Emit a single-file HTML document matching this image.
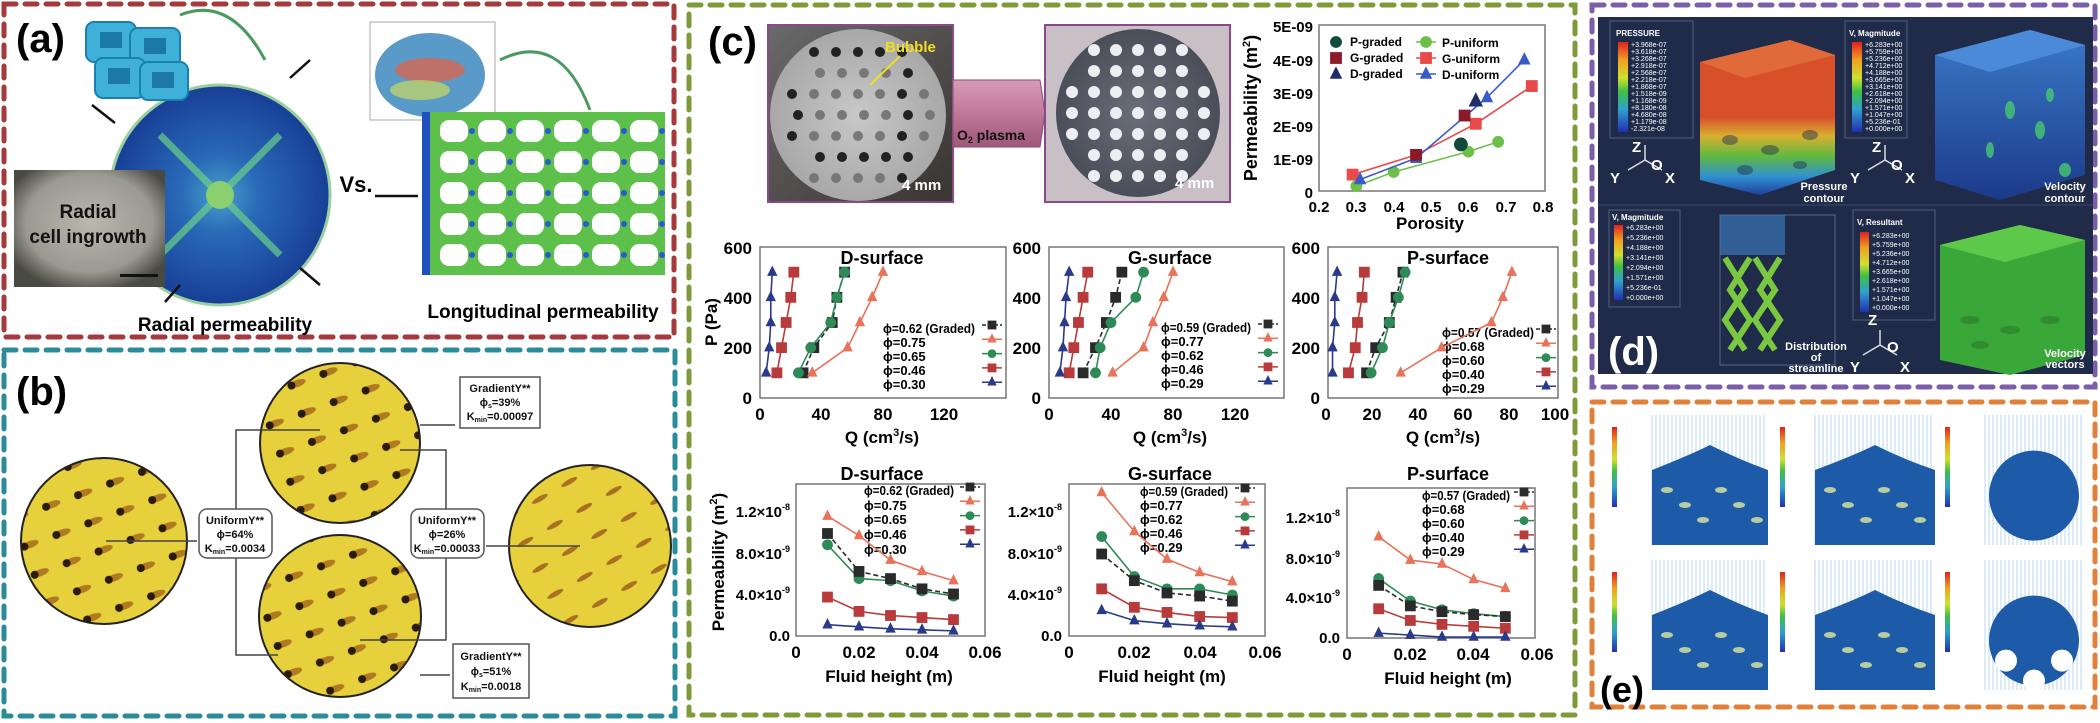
<!DOCTYPE html>
<html><head><meta charset="utf-8">
<style>
html,body{margin:0;padding:0;background:#fff;}
svg{display:block;font-family:"Liberation Sans",Arial,sans-serif;font-weight:bold;}
</style></head>
<body>
<svg id="s" width="2100" height="723" viewBox="0 0 2100 723" xmlns="http://www.w3.org/2000/svg">
<defs>
  <radialGradient id="circBlue" cx="50%" cy="50%" r="50%">
    <stop offset="0" stop-color="#4aa0c8"/><stop offset="0.35" stop-color="#2a6ab8"/><stop offset="1" stop-color="#173f96"/>
  </radialGradient>
  <radialGradient id="inset" cx="50%" cy="45%" r="60%">
    <stop offset="0" stop-color="#b8b8ae"/><stop offset="0.7" stop-color="#9a9a90"/><stop offset="1" stop-color="#4a4a44"/>
  </radialGradient>
  <pattern id="dots" x="0" y="0" width="34" height="30" patternUnits="userSpaceOnUse" patternTransform="rotate(-20)">
    <rect width="34" height="30" fill="#e6d13c"/>
    <ellipse cx="12" cy="12" rx="9" ry="3.5" fill="#b07a20"/>
    <circle cx="6" cy="12" r="4" fill="#2a1a08"/>
  </pattern>
  <pattern id="dots2" x="0" y="0" width="34" height="30" patternUnits="userSpaceOnUse" patternTransform="rotate(-30)">
    <rect width="34" height="30" fill="#e6d13c"/>
    <ellipse cx="14" cy="12" rx="9" ry="2.5" fill="#a87020"/>
  </pattern>
  <linearGradient id="rainbow" x1="0" y1="0" x2="0" y2="1">
    <stop offset="0" stop-color="#e02020"/><stop offset="0.2" stop-color="#f0a020"/><stop offset="0.4" stop-color="#d0e030"/>
    <stop offset="0.55" stop-color="#40c040"/><stop offset="0.75" stop-color="#30a0d0"/><stop offset="1" stop-color="#2030b0"/>
  </linearGradient>
  <linearGradient id="presCube" x1="0" y1="0" x2="0" y2="1">
    <stop offset="0" stop-color="#d8502a"/><stop offset="0.5" stop-color="#d8502a"/><stop offset="0.62" stop-color="#d8b030"/>
    <stop offset="0.75" stop-color="#60b840"/><stop offset="0.88" stop-color="#3090d0"/><stop offset="1" stop-color="#2040a0"/>
  </linearGradient>
  <linearGradient id="velCube" x1="0" y1="0" x2="0" y2="1">
    <stop offset="0" stop-color="#3a7ac8"/><stop offset="1" stop-color="#1c3a8a"/>
  </linearGradient>
  <linearGradient id="photo1" x1="0" y1="0" x2="1" y2="1">
    <stop offset="0" stop-color="#6a6a6a"/><stop offset="1" stop-color="#3a3432"/>
  </linearGradient>
  <radialGradient id="disc1"><stop offset="0" stop-color="#c8c8c8"/><stop offset="1" stop-color="#a8a8a8"/></radialGradient>
  <radialGradient id="disc2"><stop offset="0" stop-color="#6a6e78"/><stop offset="1" stop-color="#4a4e58"/></radialGradient>
  <linearGradient id="tube" x1="0" y1="0" x2="0" y2="1">
    <stop offset="0" stop-color="#d89ab8"/><stop offset="0.5" stop-color="#c07898"/><stop offset="1" stop-color="#a05878"/>
  </linearGradient>
</defs>

<!-- ===== Panel borders ===== -->
<g fill="none" stroke-width="5" stroke-linecap="round" stroke-dasharray="12 9">
  <rect x="4" y="4" width="670" height="333" stroke="#a6393c"/>
  <rect x="4" y="350" width="671" height="366" stroke="#2b8c99"/>
  <rect x="689" y="5" width="886" height="710" stroke="#7f9a3a"/>
  <rect x="1592" y="5" width="503" height="382" stroke="#7a5ea8"/>
  <rect x="1592" y="402" width="503" height="305" stroke="#e0803a"/>
</g>

<!-- ===== (a) ===== -->
<text x="16" y="52" font-size="40">(a)</text>
<circle cx="220" cy="195" r="110" fill="url(#circBlue)" stroke="#9ad0a0" stroke-width="3"/>
<g stroke="#6ad08a" stroke-width="7" opacity="0.7">
  <line x1="160" y1="135" x2="280" y2="255"/><line x1="280" y1="135" x2="160" y2="255"/>
</g>
<circle cx="220" cy="195" r="14" fill="#8ad070"/>
<g fill="#3fb0d8" stroke="#1a80b0" stroke-width="2">
  <rect x="86" y="22" width="50" height="40" rx="8"/><rect x="130" y="28" width="50" height="40" rx="8"/>
  <rect x="95" y="58" width="50" height="40" rx="8"/><rect x="140" y="62" width="48" height="38" rx="8"/>
</g>
<g fill="#1c78a8"><rect x="100" y="32" width="22" height="16"/><rect x="144" y="38" width="22" height="16"/><rect x="108" y="68" width="22" height="16"/><rect x="152" y="72" width="22" height="16"/></g>
<path d="M180 15 Q230 -5 265 60" fill="none" stroke="#4a9a60" stroke-width="3"/>
<rect x="14" y="170" width="151" height="117" fill="url(#inset)"/>
<text x="88" y="218" font-size="19" text-anchor="middle" fill="#111">Radial</text>
<text x="88" y="243" font-size="19" text-anchor="middle" fill="#111">cell ingrowth</text>
<rect x="120" y="274" width="38" height="3" fill="#111"/>
<g stroke="#111" stroke-width="2.5">
  <line x1="92" y1="105" x2="115" y2="123"/><line x1="310" y1="60" x2="290" y2="78"/>
  <line x1="320" y1="285" x2="300" y2="268"/><line x1="165" y1="302" x2="180" y2="285"/>
</g>
<text x="225" y="331" font-size="19" text-anchor="middle">Radial permeability</text>
<text x="356" y="192" font-size="22" text-anchor="middle">Vs.</text>
<rect x="370" y="22" width="125" height="98" fill="none" stroke="#aaa" stroke-width="1"/>
<ellipse cx="430" cy="75" rx="55" ry="42" fill="#5a9ac8"/>
<ellipse cx="430" cy="70" rx="35" ry="12" fill="#e86040" opacity="0.7"/>
<ellipse cx="420" cy="90" rx="30" ry="10" fill="#c8d860" opacity="0.7"/>
<path d="M500 60 Q560 30 590 110" fill="none" stroke="#4a9a60" stroke-width="3"/>
<rect x="422" y="112" width="243" height="163" fill="#5cc04a"/>
<rect x="422" y="112" width="8" height="163" fill="#2050c0"/>
<g fill="#fff" id="holes"></g>
<line x1="375" y1="196" x2="418" y2="196" stroke="#111" stroke-width="2.5"/>
<text x="543" y="318" font-size="19" text-anchor="middle">Longitudinal permeability</text>

<!-- ===== (b) ===== -->
<text x="16" y="405" font-size="40">(b)</text>
<g stroke="#222" stroke-width="2">
  <circle cx="104" cy="541" r="83" fill="url(#dots)"/>
  <circle cx="340" cy="443" r="80" fill="url(#dots)"/>
  <circle cx="340" cy="616" r="81" fill="url(#dots)"/>
  <circle cx="590" cy="546" r="81" fill="url(#dots2)"/>
</g>
<g fill="none" stroke="#444" stroke-width="1.5">
  <path d="M106 541 H197"/><path d="M236 509 V430 H320"/><path d="M236 558 V655 H278"/>
  <path d="M580 546 H486"/><path d="M446 509 V450 H400"/><path d="M446 558 V640 H360"/>
  <path d="M420 425 H455"/><path d="M420 675 H450"/>
</g>
<g fill="#fff" stroke="#555" stroke-width="1.5">
  <rect x="199" y="509" width="73" height="49" rx="8"/>
  <rect x="411" y="509" width="73" height="49" rx="8"/>
  <rect x="460" y="377" width="80" height="51"/>
  <rect x="453" y="644" width="76" height="54"/>
</g>
<g font-size="11" text-anchor="middle" fill="#111">
  <text x="235" y="524">UniformY**</text><text x="235" y="538">ϕ=64%</text><text x="235" y="552">K<tspan font-size="7" dy="2">min</tspan><tspan dy="-2">=0.0034</tspan></text>
  <text x="447" y="524">UniformY**</text><text x="447" y="538">ϕ=26%</text><text x="447" y="552">K<tspan font-size="7" dy="2">min</tspan><tspan dy="-2">=0.00033</tspan></text>
  <text x="500" y="392">GradientY**</text><text x="500" y="406">ϕ<tspan font-size="7" dy="2">s</tspan><tspan dy="-2">=39%</tspan></text><text x="500" y="420">K<tspan font-size="7" dy="2">min</tspan><tspan dy="-2">=0.00097</tspan></text>
  <text x="491" y="660">GradientY**</text><text x="491" y="675">ϕ<tspan font-size="7" dy="2">s</tspan><tspan dy="-2">=51%</tspan></text><text x="491" y="690">K<tspan font-size="7" dy="2">min</tspan><tspan dy="-2">=0.0018</tspan></text>
</g>

<!-- ===== (c) top ===== -->
<text x="708" y="55" font-size="40">(c)</text>
<rect x="768" y="25" width="185" height="177" fill="url(#photo1)" stroke="#8a4a8a" stroke-width="2"/>
<ellipse cx="858" cy="115" rx="88" ry="86" fill="url(#disc1)"/>
<g id="pores1" fill="#555"></g>
<text x="885" y="52" font-size="15" fill="#f0e020">Bubble</text>
<line x1="900" y1="56" x2="870" y2="85" stroke="#f0e020" stroke-width="2"/>
<text x="902" y="190" font-size="15" fill="#fff">4 mm</text>
<path d="M953 80 H1040 L1045 113 L1040 147 H953 Z" fill="url(#tube)" stroke="#8a4a7a"/>
<text x="957" y="140" font-size="14" fill="#111">O<tspan font-size="9" dy="3">2</tspan><tspan dy="-3"> plasma</tspan></text>
<rect x="1045" y="25" width="185" height="177" fill="#c8c0c4" stroke="#8a4a8a" stroke-width="2"/>
<ellipse cx="1138" cy="113" rx="82" ry="84" fill="url(#disc2)"/>
<g id="pores2" fill="#e8e8ec"></g>
<text x="1175" y="188" font-size="15" fill="#fff">4 mm</text>

<!-- top permeability chart -->
<rect x="1319" y="25" width="226" height="166" fill="#fff" stroke="#777" stroke-width="1.5"/>
<g font-size="15" text-anchor="end">
  <text x="1313" y="32">5E-09</text><text x="1313" y="66">4E-09</text><text x="1313" y="99">3E-09</text>
  <text x="1313" y="132">2E-09</text><text x="1313" y="165">1E-09</text><text x="1313" y="198">0</text>
</g>
<g font-size="15" text-anchor="middle">
  <text x="1319" y="212">0.2</text><text x="1356" y="212">0.3</text><text x="1394" y="212">0.4</text><text x="1431" y="212">0.5</text>
  <text x="1468" y="212">0.6</text><text x="1506" y="212">0.7</text><text x="1543" y="212">0.8</text>
  <text x="1430" y="229" font-size="17">Porosity</text>
</g>
<text transform="translate(1257,108) rotate(-90)" font-size="18" text-anchor="middle">Permeability (m<tspan font-size="11" dy="-7">2</tspan><tspan dy="7">)</tspan></text>
<g font-size="12">
  <text x="1350" y="46">P-graded</text><text x="1350" y="62">G-graded</text><text x="1350" y="78">D-graded</text>
  <text x="1442" y="47">P-uniform</text><text x="1442" y="63">G-uniform</text><text x="1442" y="79">D-uniform</text>
</g>

<!-- row 2 charts frames/text -->
<g fill="#fff" stroke="#777" stroke-width="1.5">
  <rect x="760" y="247" width="246" height="151"/>
  <rect x="1049" y="247" width="235" height="151"/>
  <rect x="1328" y="247" width="230" height="151"/>
  <rect x="796" y="484" width="189" height="152"/>
  <rect x="1069" y="484" width="196" height="152"/>
  <rect x="1347" y="488" width="188" height="150"/>
</g>
<g font-size="17" text-anchor="end">
  <text x="752" y="254">600</text><text x="752" y="304">400</text><text x="752" y="354">200</text><text x="752" y="404">0</text>
  <text x="1041" y="254">600</text><text x="1041" y="304">400</text><text x="1041" y="354">200</text><text x="1041" y="404">0</text>
  <text x="1320" y="254">600</text><text x="1320" y="304">400</text><text x="1320" y="354">200</text><text x="1320" y="404">0</text>
</g>
<g font-size="17" text-anchor="middle">
  <text x="760" y="420">0</text><text x="821" y="420">40</text><text x="883" y="420">80</text><text x="944" y="420">120</text>
  <text x="1049" y="420">0</text><text x="1111" y="420">40</text><text x="1173" y="420">80</text><text x="1235" y="420">120</text>
  <text x="1326" y="420">0</text><text x="1372" y="420">20</text><text x="1418" y="420">40</text><text x="1463" y="420">60</text><text x="1509" y="420">80</text><text x="1555" y="420">100</text>
  <text x="882" y="443">Q (cm<tspan font-size="11" dy="-7">3</tspan><tspan dy="7">/s)</tspan></text>
  <text x="1170" y="443">Q (cm<tspan font-size="11" dy="-7">3</tspan><tspan dy="7">/s)</tspan></text>
  <text x="1443" y="443">Q (cm<tspan font-size="11" dy="-7">3</tspan><tspan dy="7">/s)</tspan></text>
  <text x="882" y="264" font-size="18">D-surface</text>
  <text x="1170" y="264" font-size="18">G-surface</text>
  <text x="1448" y="264" font-size="18">P-surface</text>
  <text x="882" y="480" font-size="18">D-surface</text>
  <text x="1170" y="480" font-size="18">G-surface</text>
  <text x="1448" y="480" font-size="18">P-surface</text>
  <text x="796" y="658">0</text><text x="859" y="658">0.02</text><text x="922" y="658">0.04</text><text x="985" y="658">0.06</text>
  <text x="1069" y="658">0</text><text x="1134" y="658">0.02</text><text x="1200" y="658">0.04</text><text x="1265" y="658">0.06</text>
  <text x="1347" y="660">0</text><text x="1410" y="660">0.02</text><text x="1473" y="660">0.04</text><text x="1537" y="660">0.06</text>
  <text x="889" y="682">Fluid height (m)</text><text x="1162" y="682">Fluid height (m)</text><text x="1448" y="684">Fluid height (m)</text>
</g>
<text transform="translate(717,322) rotate(-90)" font-size="17" text-anchor="middle">P (Pa)</text>
<text transform="translate(724,562) rotate(-90)" font-size="17" text-anchor="middle">Permeability (m<tspan font-size="11" dy="-7">2</tspan><tspan dy="7">)</tspan></text>
<g font-size="15" text-anchor="end">
  <text x="790" y="517">1.2×10<tspan font-size="9" dy="-7">-8</tspan></text>
  <text x="790" y="559">8.0×10<tspan font-size="9" dy="-7">-9</tspan></text>
  <text x="790" y="600">4.0×10<tspan font-size="9" dy="-7">-9</tspan></text>
  <text x="790" y="641">0.0</text>
  <text x="1062" y="517">1.2×10<tspan font-size="9" dy="-7">-8</tspan></text>
  <text x="1062" y="559">8.0×10<tspan font-size="9" dy="-7">-9</tspan></text>
  <text x="1062" y="600">4.0×10<tspan font-size="9" dy="-7">-9</tspan></text>
  <text x="1062" y="641">0.0</text>
  <text x="1340" y="523">1.2×10<tspan font-size="9" dy="-7">-8</tspan></text>
  <text x="1340" y="564">8.0×10<tspan font-size="9" dy="-7">-9</tspan></text>
  <text x="1340" y="603">4.0×10<tspan font-size="9" dy="-7">-9</tspan></text>
  <text x="1340" y="643">0.0</text>
</g>
<g font-size="13">
  <text x="883" y="333" textLength="92" lengthAdjust="spacingAndGlyphs">ϕ=0.62 (Graded)</text><text x="883" y="347">ϕ=0.75</text><text x="883" y="361">ϕ=0.65</text><text x="883" y="375">ϕ=0.46</text><text x="883" y="389">ϕ=0.30</text>
  <text x="1161" y="332" textLength="90" lengthAdjust="spacingAndGlyphs">ϕ=0.59 (Graded)</text><text x="1161" y="346">ϕ=0.77</text><text x="1161" y="360">ϕ=0.62</text><text x="1161" y="374">ϕ=0.46</text><text x="1161" y="388">ϕ=0.29</text>
  <text x="1442" y="337" textLength="92" lengthAdjust="spacingAndGlyphs">ϕ=0.57 (Graded)</text><text x="1442" y="351">ϕ=0.68</text><text x="1442" y="365">ϕ=0.60</text><text x="1442" y="379">ϕ=0.40</text><text x="1442" y="393">ϕ=0.29</text>
  <text x="864" y="495" textLength="90" lengthAdjust="spacingAndGlyphs">ϕ=0.62 (Graded)</text><text x="864" y="510">ϕ=0.75</text><text x="864" y="524">ϕ=0.65</text><text x="864" y="539">ϕ=0.46</text><text x="864" y="554">ϕ=0.30</text>
  <text x="1140" y="496" textLength="88" lengthAdjust="spacingAndGlyphs">ϕ=0.59 (Graded)</text><text x="1140" y="510">ϕ=0.77</text><text x="1140" y="524">ϕ=0.62</text><text x="1140" y="538">ϕ=0.46</text><text x="1140" y="552">ϕ=0.29</text>
  <text x="1422" y="500" textLength="88" lengthAdjust="spacingAndGlyphs">ϕ=0.57 (Graded)</text><text x="1422" y="514">ϕ=0.68</text><text x="1422" y="528">ϕ=0.60</text><text x="1422" y="542">ϕ=0.40</text><text x="1422" y="556">ϕ=0.29</text>
</g>
<g id="plots"></g>

<!-- ===== (d) ===== -->
<rect x="1598" y="17" width="495" height="357" fill="#1f2b48"/>
<line x1="1598" y1="205" x2="2093" y2="205" stroke="#2c3a5c" stroke-width="2"/>
<g stroke="#55607a" fill="none">
  <rect x="1610" y="21" width="83" height="117"/><rect x="1845" y="21" width="62" height="117"/>
  <rect x="1609" y="210" width="71" height="97"/><rect x="1853" y="210" width="82" height="110"/>
</g>
<rect x="1618" y="42" width="10" height="90" fill="url(#rainbow)"/>
<rect x="1852" y="42" width="10" height="90" fill="url(#rainbow)"/>
<rect x="1614" y="225" width="9" height="75" fill="url(#rainbow)"/>
<rect x="1860" y="232" width="9" height="80" fill="url(#rainbow)"/>
<g fill="#fff" font-size="7" font-weight="normal">
  <text x="1616" y="36" font-size="8" font-weight="bold">PRESSURE</text>
  <text x="1631" y="47">+3.968e-07</text><text x="1631" y="54">+3.618e-07</text><text x="1631" y="61">+3.268e-07</text><text x="1631" y="68">+2.918e-07</text><text x="1631" y="75">+2.568e-07</text><text x="1631" y="82">+2.218e-07</text><text x="1631" y="89">+1.868e-07</text><text x="1631" y="96">+1.518e-09</text><text x="1631" y="103">+1.168e-09</text><text x="1631" y="110">+8.180e-08</text><text x="1631" y="117">+4.680e-08</text><text x="1631" y="124">+1.179e-08</text><text x="1631" y="131">-2.321e-08</text>
  <text x="1849" y="36" font-size="8" font-weight="bold">V, Magmitude</text>
  <text x="1865" y="47">+6.283e+00</text><text x="1865" y="54">+5.759e+00</text><text x="1865" y="61">+5.236e+00</text><text x="1865" y="68">+4.712e+00</text><text x="1865" y="75">+4.188e+00</text><text x="1865" y="82">+3.665e+00</text><text x="1865" y="89">+3.141e+00</text><text x="1865" y="96">+2.618e+00</text><text x="1865" y="103">+2.094e+00</text><text x="1865" y="110">+1.571e+00</text><text x="1865" y="117">+1.047e+00</text><text x="1865" y="124">+5.236e-01</text><text x="1865" y="131">+0.000e+00</text>
  <text x="1612" y="220" font-size="8" font-weight="bold">V, Magmitude</text>
  <text x="1626" y="230">+6.283e+00</text><text x="1626" y="240">+5.236e+00</text><text x="1626" y="250">+4.188e+00</text><text x="1626" y="260">+3.141e+00</text><text x="1626" y="270">+2.094e+00</text><text x="1626" y="280">+1.571e+00</text><text x="1626" y="290">+5.236e-01</text><text x="1626" y="300">+0.000e+00</text>
  <text x="1857" y="225" font-size="8" font-weight="bold">V, Resultant</text>
  <text x="1872" y="238">+6.283e+00</text><text x="1872" y="247">+5.759e+00</text><text x="1872" y="256">+5.236e+00</text><text x="1872" y="265">+4.712e+00</text><text x="1872" y="274">+3.665e+00</text><text x="1872" y="283">+2.618e+00</text><text x="1872" y="292">+1.571e+00</text><text x="1872" y="301">+1.047e+00</text><text x="1872" y="310">+0.000e+00</text>
</g>
<path d="M1700 62 L1790 40 L1835 55 L1835 170 L1760 195 L1700 180 Z" fill="url(#presCube)"/>
<path d="M1700 62 L1790 40 L1835 55 L1745 78 Z" fill="#e06a3a"/>
<g fill="#1a2a50" opacity="0.45"><ellipse cx="1730" cy="140" rx="8" ry="5"/><ellipse cx="1770" cy="150" rx="9" ry="5"/><ellipse cx="1810" cy="135" rx="8" ry="5"/><ellipse cx="1745" cy="170" rx="8" ry="5"/><ellipse cx="1800" cy="165" rx="7" ry="4"/></g>
<path d="M1935 55 L2030 30 L2085 45 L2085 175 L2000 200 L1935 180 Z" fill="url(#velCube)"/>
<path d="M1935 55 L2030 30 L2085 45 L1990 72 Z" fill="#4a8ad8"/>
<g fill="#48c870" opacity="0.8"><ellipse cx="2010" cy="110" rx="5" ry="9"/><ellipse cx="2040" cy="130" rx="5" ry="9"/><ellipse cx="2065" cy="170" rx="6" ry="7"/><ellipse cx="1990" cy="150" rx="4" ry="8"/><ellipse cx="2050" cy="95" rx="4" ry="7"/></g>
<rect x="1720" y="215" width="115" height="150" fill="none" stroke="#5a6a88" stroke-width="1"/>
<rect x="1720" y="215" width="65" height="40" fill="#3a78b8" opacity="0.7"/>
<g stroke="#7ac840" stroke-width="6" fill="none">
  <path d="M1725 258 L1745 290 L1725 320 L1745 350"/><path d="M1750 258 L1730 290 L1750 320 L1730 350"/>
  <path d="M1755 258 L1775 290 L1755 320 L1775 350"/><path d="M1780 258 L1760 290 L1780 320 L1760 350"/>
</g>
<path d="M1940 245 L2020 225 L2085 240 L2085 355 L2010 375 L1940 360 Z" fill="#3aa838"/>
<path d="M1940 245 L2020 225 L2085 240 L2005 262 Z" fill="#5ec84a"/>
<g fill="#2a7a28" opacity="0.6"><ellipse cx="1970" cy="320" rx="10" ry="4"/><ellipse cx="2010" cy="330" rx="10" ry="4"/><ellipse cx="2050" cy="320" rx="10" ry="4"/><ellipse cx="1980" cy="345" rx="9" ry="4"/></g>
<g stroke="#ddd" stroke-width="1.5" fill="none">
  <path d="M1645 160 V145 M1645 160 L1628 170 M1645 160 L1662 170"/>
  <path d="M1885 160 V145 M1885 160 L1868 170 M1885 160 L1902 170"/>
  <path d="M1880 345 V330 M1880 345 L1863 355 M1880 345 L1897 355"/>
</g>
<g fill="#fff" font-size="15">
  <text x="1632" y="152">Z</text><text x="1651" y="170">O</text><text x="1610" y="183">Y</text><text x="1665" y="183">X</text>
  <text x="1872" y="152">Z</text><text x="1891" y="170">O</text><text x="1850" y="183">Y</text><text x="1905" y="183">X</text>
  <text x="1868" y="325">Z</text><text x="1887" y="352">O</text><text x="1850" y="372">Y</text><text x="1900" y="372">X</text>
</g>
<g fill="#fff" font-size="11" text-anchor="middle">
  <text x="1824" y="190">Pressure</text><text x="1824" y="202">contour</text>
  <text x="2065" y="190">Velocity</text><text x="2065" y="202">contour</text>
  <text x="1816" y="350">Distribution</text><text x="1816" y="361">of</text><text x="1816" y="372">streamline</text>
  <text x="2065" y="357">Velocity</text><text x="2065" y="368">vectors</text>
</g>
<text x="1608" y="365" font-size="40" fill="#fff">(d)</text>

<!-- ===== (e) ===== -->
<g id="eimg"></g>
<text x="1600" y="702" font-size="36">(e)</text>
</svg>
<script>
var NS="http://www.w3.org/2000/svg";
function el(tag,attrs,parent){var e=document.createElementNS(NS,tag);for(var k in attrs)e.setAttribute(k,attrs[k]);(parent||document.getElementById('plots')).appendChild(e);return e;}
(function(){var g=document.getElementById('holes');
 for(var r=0;r<5;r++)for(var c=0;c<6;c++){var x=440+c*38,y=120+r*31;
  el('rect',{x:x,y:y,width:28,height:22,rx:9,fill:'#fff'},g);
  el('circle',{cx:x+32,cy:y+11,r:3,fill:'#2a5ad0'},g);}
 var p1=document.getElementById('pores1'),p2=document.getElementById('pores2');
 for(var r=0;r<7;r++)for(var c=0;c<7;c++){var dx=(c-3)*22,dy=(r-3)*21;if(dx*dx+dy*dy>78*78)continue;
  el('circle',{cx:858+dx+(r%2)*6,cy:115+dy,r:5,fill:(r*c)%5==0?'#222':'#777'},p1);
  el('circle',{cx:1138+dx,cy:113+dy,r:6,fill:'#eceef2'},p2);}
})();
function chart(c,series){
 series.forEach(function(s){
  var pts=s.d.map(function(p){return [c.x0+(p[0]-c.xmin)/(c.xmax-c.xmin)*(c.x1-c.x0), c.y1-(p[1]-c.ymin)/(c.ymax-c.ymin)*(c.y1-c.y0)];});
  if(s.line!==false) el('polyline',{points:pts.map(function(p){return p.join(',')}).join(' '),fill:'none',stroke:s.c,'stroke-width':s.w||1.6,'stroke-dasharray':s.dash?'5 3':'none'});
  pts.forEach(function(p){marker(p[0],p[1],s.m,s.c,s.r||4.5,s.hollow);});
 });
}
function marker(x,y,m,col,r,hollow){
 var f=hollow?'#fff':col;
 if(m=='s') el('rect',{x:x-r,y:y-r,width:2*r,height:2*r,fill:f,stroke:col,'stroke-width':1.8});
 else if(m=='o') el('circle',{cx:x,cy:y,r:r,fill:f,stroke:col,'stroke-width':1.8});
 else el('polygon',{points:(x)+','+(y-r-1)+' '+(x-r)+','+(y+r-1)+' '+(x+r)+','+(y+r-1),fill:f,stroke:col,'stroke-width':1.5});
}
var K='#2a2a2a',O='#e8735a',G='#2e8b57',R='#b83a3a',B='#2a3a8a';
function H(a){return a.map(function(v,i){return [0.01*(i+1),v];});}
function PQ(a){return a.map(function(v,i){return [v,100*(i+1)];});}
chart({x0:760,x1:1006,y0:247,y1:398,xmin:0,xmax:160,ymin:0,ymax:600},[
 {d:PQ([28,35,47,50,55]),c:K,m:'s',dash:1},{d:PQ([34,57,65,73,80]),c:O,m:'t',r:4},{d:PQ([25,33,46,50,55]),c:G,m:'o'},
 {d:PQ([11,14,17,20,22]),c:R,m:'s'},{d:PQ([4,6,7,7,8]),c:B,m:'t',r:4}]);
chart({x0:1049,x1:1284,y0:247,y1:398,xmin:0,xmax:151.6,ymin:0,ymax:600},[
 {d:PQ([22,30,37,43,47]),c:K,m:'s',dash:1},{d:PQ([41,61,67,74,80]),c:O,m:'t',r:4},{d:PQ([30,33,40,56,61]),c:G,m:'o'},
 {d:PQ([13,16,19,22,25]),c:R,m:'s'},{d:PQ([7,9,10,11,13]),c:B,m:'t',r:4}]);
chart({x0:1328,x1:1558,y0:247,y1:398,xmin:0,xmax:101.3,ymin:0,ymax:600},[
 {d:PQ([17,21,27,30,33]),c:K,m:'s',dash:1},{d:PQ([32,50,72,77,81]),c:O,m:'t',r:4},{d:PQ([19,24,27,31,34]),c:G,m:'o'},
 {d:PQ([9,12,13,15,16]),c:R,m:'s'},{d:PQ([2,2,3,3,4]),c:B,m:'t',r:4}]);
chart({x0:796,x1:985,y0:484,y1:636,xmin:0,xmax:0.06,ymin:0,ymax:14.83},[
 {d:H([11.7,9.8,7.4,6.3,5.4]),c:O,m:'t',r:4},{d:H([8.9,5.6,5.4,4.4,3.9]),c:G,m:'o'},{d:H([10,6.3,5.6,4.6,4.1]),c:K,m:'s',dash:1},
 {d:H([3.8,2.4,2.0,1.8,1.6]),c:R,m:'s'},{d:H([1.1,0.9,0.7,0.6,0.5]),c:B,m:'t',r:4}]);
chart({x0:1069,x1:1265,y0:484,y1:636,xmin:0,xmax:0.06,ymin:0,ymax:14.83},[
 {d:H([14,10.2,7.5,6.2,5.3]),c:O,m:'t',r:4},{d:H([9.7,5.8,4.6,4.6,4.0]),c:G,m:'o'},{d:H([8.0,5.4,4.2,3.9,3.4]),c:K,m:'s',dash:1},
 {d:H([4.6,2.8,2.3,1.9,1.8]),c:R,m:'s'},{d:H([2.5,1.5,1.2,1.0,0.9]),c:B,m:'t',r:4}]);
chart({x0:1347,x1:1537,y0:488,y1:638,xmin:0,xmax:0.06,ymin:0,ymax:15.4},[
 {d:H([10.4,8.0,7.6,6.0,5.1]),c:O,m:'t',r:4},{d:H([6.1,3.8,2.9,2.5,2.2]),c:G,m:'o'},{d:H([5.4,3.3,2.7,2.4,2.2]),c:K,m:'s',dash:1},
 {d:H([3.0,1.8,1.4,1.2,1.0]),c:R,m:'s'},{d:H([0.5,0.3,0.1,0.1,0.1]),c:B,m:'t',r:4}]);
[[992,329],[1268,328],[1546,333],[970,491],[1245,492],[1524,496]].forEach(function(p){
 var cols=[K,O,G,R,B],ms=['s','t','o','s','t'];
 for(var i=0;i<5;i++){var y=p[1]+i*14.3-4;el('line',{x1:p[0]-10,y1:y,x2:p[0]+10,y2:y,stroke:cols[i],'stroke-width':1.5,'stroke-dasharray':i==0?'4 2':'none'});marker(p[0],y,ms[i],cols[i],3.5);}
});
chart({x0:1319,x1:1543,y0:27,y1:191,xmin:0.2,xmax:0.8,ymin:0,ymax:5},[
 {d:[[0.30,0.15],[0.40,0.58],[0.60,1.2],[0.68,1.5]],c:'#6cc04a',m:'o',r:5},
 {d:[[0.29,0.5],[0.46,1.1],[0.62,2.05],[0.77,3.2]],c:'#e84a4a',m:'s',r:5},
 {d:[[0.31,0.35],[0.46,1.0],[0.65,2.85],[0.75,4.0]],c:'#3a5ac8',m:'t',r:5},
 {d:[[0.58,1.42]],c:'#0f4a3a',m:'o',r:6,line:false},
 {d:[[0.46,1.1],[0.59,2.3]],c:'#8b1a2a',m:'s',r:5,line:false},
 {d:[[0.62,2.75]],c:'#1f2d6b',m:'t',r:6,line:false}]);
marker(1336,42,'o','#0f4a3a',5);marker(1336,58,'s','#8b1a2a',5);marker(1336,74,'t','#1f2d6b',5);
[[42,'#6cc04a','o'],[58,'#e84a4a','s'],[74,'#3a5ac8','t']].forEach(function(a){el('line',{x1:1416,y1:a[0],x2:1436,y2:a[0],stroke:a[1],'stroke-width':1.5});marker(1426,a[0],a[2],a[1],5);});
(function(){var g=document.getElementById('eimg');
 var cols=[[1612,1652,1768],[1780,1815,1935],[1945,1985,2083]],rows=[[415,545],[560,690]];
 rows.forEach(function(r,ri){cols.forEach(function(c,ci){
  el('rect',{x:c[0],y:r[0]+12,width:5,height:80,fill:'url(#rainbow)'},g);
  for(var x=c[1];x<c[2];x+=4) el('line',{x1:x,y1:r[0],x2:x,y2:r[1],stroke:'#8ac0e0','stroke-width':1,opacity:0.6},g);
  var cx=(c[1]+c[2])/2,cy=r[0]+(r[1]-r[0])*0.62;
  if(ci==2){el('circle',{cx:cx,cy:cy,r:45,fill:'#1d5aa8'},g);
   if(ri==1){[[-28,20],[28,20],[0,40]].forEach(function(o){el('circle',{cx:cx+o[0],cy:cy+o[1],r:11,fill:'#fff'},g);});}
  } else {
   el('path',{d:'M'+(c[1])+' '+(r[1])+' L'+c[1]+' '+(r[0]+55)+' Q'+(cx-20)+' '+(r[0]+40)+' '+cx+' '+(r[0]+30)+' Q'+(cx+30)+' '+(r[0]+45)+' '+c[2]+' '+(r[0]+55)+' L'+c[2]+' '+r[1]+' Z',fill:'#1d5aa8'},g);
   for(var k=0;k<6;k++) el('ellipse',{cx:c[1]+15+k*18,cy:r[0]+75+(k%3)*15,rx:6,ry:3,fill:'#e0e8a0',opacity:0.8},g);
  }
 });});
})();
</script>
</body></html>
